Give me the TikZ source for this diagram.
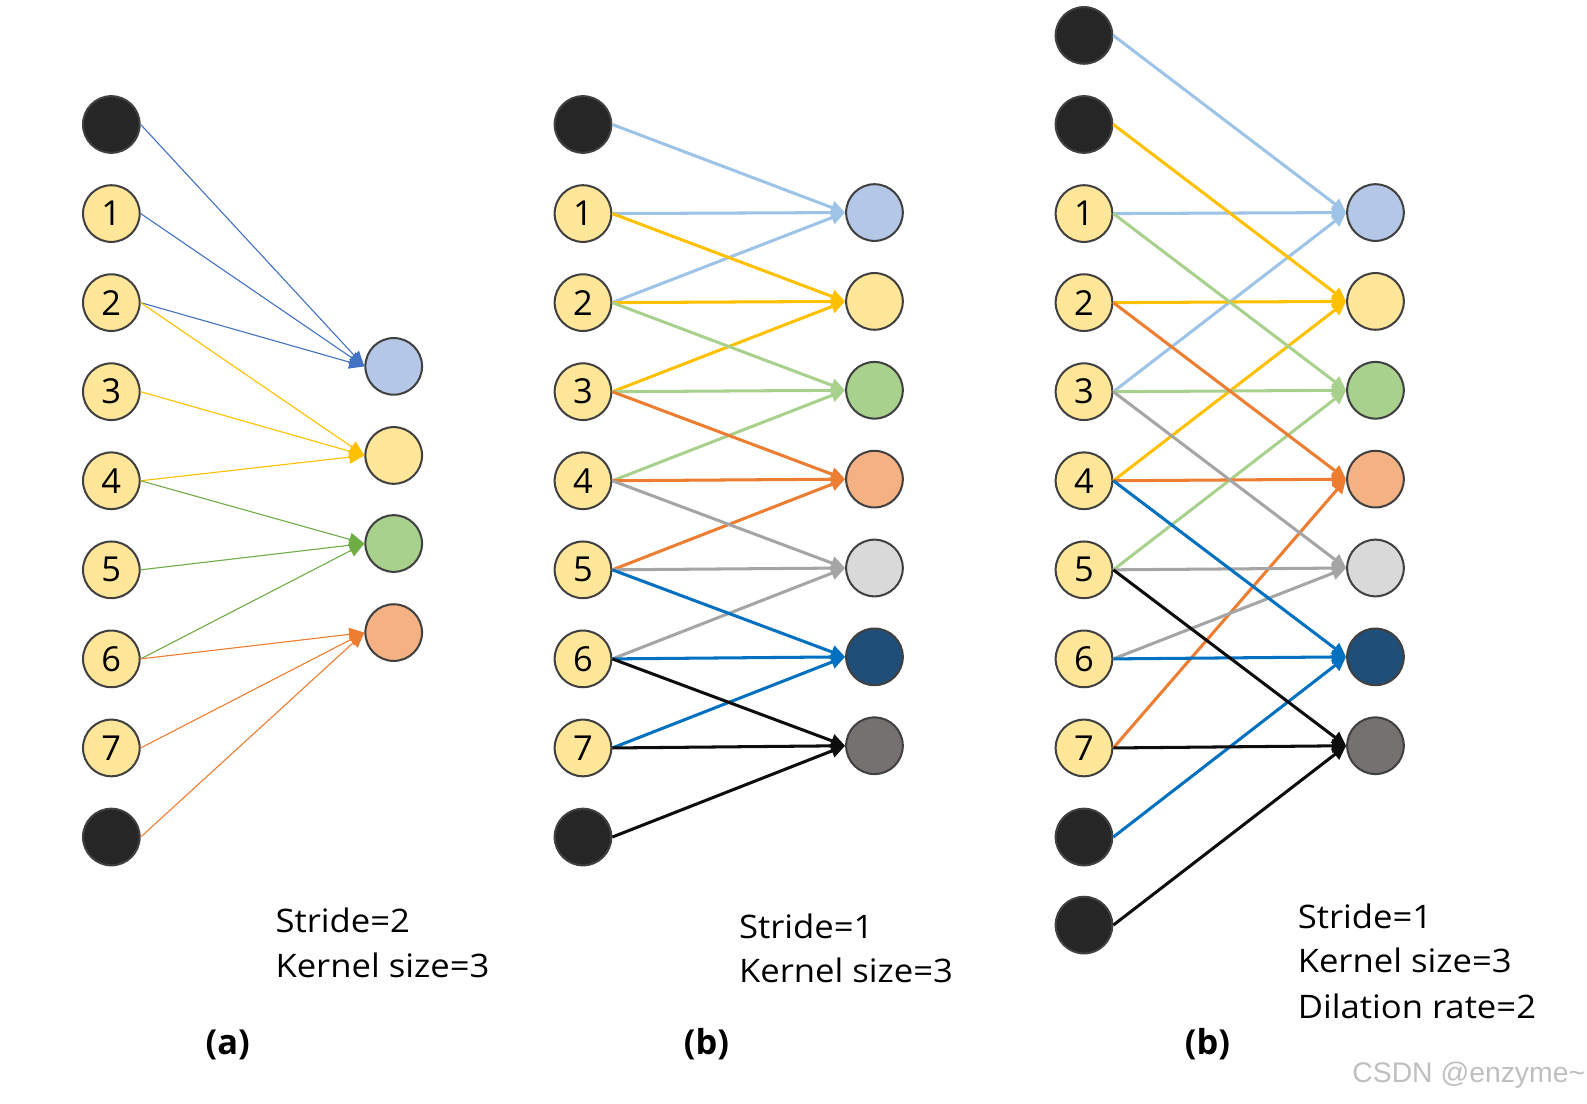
\documentclass[tikz,border=0pt]{standalone}
\usepackage{fontspec}
\setmainfont{Open Sans}
\newfontfamily\lblfont[FakeStretch=1.07]{Open Sans}
\newfontfamily\wmfont{Liberation Sans}
\usetikzlibrary{arrows.meta}
\definecolor{cborder}{HTML}{404040}
\definecolor{padK}{HTML}{262626}
\definecolor{inY}{HTML}{FFE699}
\definecolor{oA}{HTML}{B4C7E7}
\definecolor{oB}{HTML}{FFE699}
\definecolor{oC}{HTML}{A9D18E}
\definecolor{oD}{HTML}{F4B183}
\definecolor{oE}{HTML}{D9D9D9}
\definecolor{oF}{HTML}{1F4E79}
\definecolor{oG}{HTML}{767171}
\definecolor{eBlueA}{HTML}{4472C4}
\definecolor{eYel}{HTML}{FFC000}
\definecolor{eGrnA}{HTML}{70AD47}
\definecolor{eOrg}{HTML}{ED7D31}
\definecolor{eLBlue}{HTML}{9DC3E6}
\definecolor{eLGrn}{HTML}{A9D18E}
\definecolor{eGray}{HTML}{A5A5A5}
\definecolor{eBlue}{HTML}{0070C0}
\definecolor{eBlk}{HTML}{0D0D0D}
\tikzset{
  cell/.style={circle, draw=cborder, line width=2pt, minimum size=56pt, inner sep=0pt, font=\fontsize{34}{40}\selectfont},
  inp/.style={cell, fill=inY},
  padc/.style={cell, fill=padK},
  edgeA/.style={line width=1.1pt, -{Triangle[length=15pt,width=13pt]}},
  edgeB/.style={line width=3pt, -{Triangle[length=14pt,width=13pt]}},
  lbl/.style={anchor=base west, font=\lblfont\fontsize{32}{37}\selectfont, inner sep=0pt},
  captxt/.style={font=\fontsize{34}{40}\selectfont\bfseries, inner sep=0pt}
}
\begin{document}
\begin{tikzpicture}[x=1pt,y=-1pt]
\useasboundingbox (0,0) rectangle (1568,1090);
% ---------- panel (a)
\node[padc] (a0) at (110,123) {};
\foreach \i in {1,...,7} \node[inp] (a\i) at (110,{123+88*\i}) {\i};
\node[padc] (a8) at (110,827) {};
\node[cell, fill=oA] (ao1) at (389,362) {};
\node[cell, fill=oB] (ao2) at (389,450) {};
\node[cell, fill=oC] (ao3) at (389,537) {};
\node[cell, fill=oD] (ao4) at (389,625) {};
\foreach \s in {0,1,2} \draw[edgeA, eBlueA] (a\s.east) -- (ao1.west);
\foreach \s in {2,3,4} \draw[edgeA, eYel] (a\s.east) -- (ao2.west);
\foreach \s in {4,5,6} \draw[edgeA, eGrnA] (a\s.east) -- (ao3.west);
\foreach \s in {6,7,8} \draw[edgeA, eOrg] (a\s.east) -- (ao4.west);
% ---------- panel (b)
\node[padc] (b0) at (576,123) {};
\foreach \i in {1,...,7} \node[inp] (b\i) at (576,{123+88*\i}) {\i};
\node[padc] (b8) at (576,827) {};
\foreach \k/\c in {1/oA,2/oB,3/oC,4/oD,5/oE,6/oF,7/oG}
  \node[cell, fill=\c] (bo\k) at (864,{210+87.8*(\k-1)}) {};
\foreach \k/\c in {1/eLBlue,2/eYel,3/eLGrn,4/eOrg,5/eGray,6/eBlue,7/eBlk}{
  \pgfmathtruncatemacro{\sa}{\k-1}
  \pgfmathtruncatemacro{\sc}{\k+1}
  \draw[edgeB, \c] (b\sa.east) -- (bo\k.west);
  \draw[edgeB, \c] (b\k.east) -- (bo\k.west);
  \draw[edgeB, \c] (b\sc.east) -- (bo\k.west);
}
% ---------- panel (c)
\node[padc] (cpA) at (1071,35) {};
\node[padc] (cpB) at (1071,123) {};
\foreach \i in {1,...,7} \node[inp] (c\i) at (1071,{211+88*(\i-1)}) {\i};
\node[padc] (cpC) at (1071,827) {};
\node[padc] (cpD) at (1071,914) {};
\foreach \k/\c in {1/oA,2/oB,3/oC,4/oD,5/oE,6/oF,7/oG}
  \node[cell, fill=\c] (co\k) at (1359,{210+87.8*(\k-1)}) {};
\foreach \s in {cpA,c1,c3} \draw[edgeB, eLBlue] (\s.east) -- (co1.west);
\foreach \s in {cpB,c2,c4} \draw[edgeB, eYel] (\s.east) -- (co2.west);
\foreach \s in {c1,c3,c5} \draw[edgeB, eLGrn] (\s.east) -- (co3.west);
\foreach \s in {c2,c4,c7} \draw[edgeB, eOrg] (\s.east) -- (co4.west);
\foreach \s in {c3,c5,c6} \draw[edgeB, eGray] (\s.east) -- (co5.west);
\foreach \s in {c4,c6,cpC} \draw[edgeB, eBlue] (\s.east) -- (co6.west);
\foreach \s in {c5,c7,cpD} \draw[edgeB, eBlk] (\s.east) -- (co7.west);
% ---------- labels
\node[lbl] (ta1) at (272,921) {Stride=2};
\node[lbl] (ta2) at (272,966) {Kernel size=3};
\node[lbl] (tb1) at (730,927) {Stride=1};
\node[lbl] (tb2) at (730,971) {Kernel size=3};
\node[lbl] (tc1) at (1282,917) {Stride=1};
\node[lbl] (tc2) at (1282,961) {Kernel size=3};
\node[lbl] (tc3) at (1282,1006) {Dilation rate=2};
\node[captxt] (capa) at (225,1032) {(a)};
\node[captxt] (capb) at (698,1032) {(b)};
\node[captxt] (capc) at (1193,1032) {(b)};
\node[font=\wmfont\fontsize{28}{32}\selectfont, text=black!25, inner sep=0pt, anchor=west] (wm) at (1336,1062) {CSDN @enzyme\textasciitilde};
\end{tikzpicture}
\end{document}
